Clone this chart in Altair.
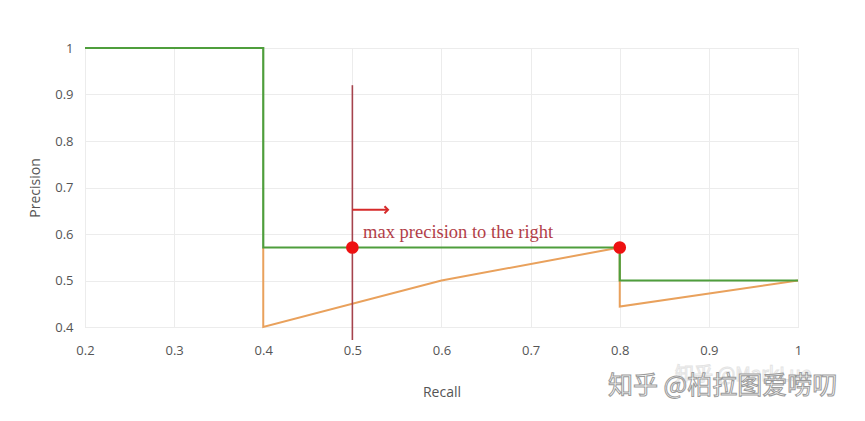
import altair as alt
import pandas as pd

# Interpolated (max precision to the right) curve - green
green_recall = [0.2, 0.4, 0.4, 0.8, 0.8, 1.0]
green_precision = [1.0, 1.0, 0.571, 0.571, 0.5, 0.5]

# Raw precision-recall curve - orange
orange_recall = [0.4, 0.4, 0.6, 0.8, 0.8, 1.0]
orange_precision = [0.571, 0.4, 0.5, 0.571, 0.444, 0.5]

# Highlighted points
dot_recall = [0.5, 0.8]
dot_precision = [0.571, 0.571]

# Vertical marker line at recall 0.5
marker_recall = 0.5
marker_top = 0.92
marker_bottom = 0.372

# Arrow
arrow_start = 0.5
arrow_end = 0.54
arrow_level = 0.652

annotation_text = "max precision to the right"
annotation_x = 0.512
annotation_y = 0.604

x_ticks = [0.2, 0.3, 0.4, 0.5, 0.6, 0.7, 0.8, 0.9, 1.0]
y_ticks = [0.4, 0.5, 0.6, 0.7, 0.8, 0.9, 1.0]

green_df = pd.DataFrame({"r": green_recall, "p": green_precision, "o": range(len(green_recall))})
orange_df = pd.DataFrame({"r": orange_recall, "p": orange_precision, "o": range(len(orange_recall))})
dots_df = pd.DataFrame({"r": dot_recall, "p": dot_precision})

xs = alt.Scale(domain=[0.2, 1.0], nice=False, zero=False)
ys = alt.Scale(domain=[0.4, 1.0], nice=False, zero=False)

font = "Open Sans"
x_axis = alt.Axis(values=x_ticks, labelExpr="format(datum.value, '.1~f')", grid=True,
                  gridColor="#ececec", domain=False, ticks=False, labelPadding=17,
                  labelFlush=False, labelBound=False,
                  labelFontSize=13, labelColor="#555", labelFont=font,
                  title="Recall", titleFont=font, titleFontSize=14, titleColor="#555",
                  titleFontWeight="normal", titlePadding=28)
y_axis = alt.Axis(values=y_ticks, labelExpr="format(datum.value, '.1~f')", grid=True,
                  gridColor="#ececec", domain=False, ticks=False, labelPadding=12,
                  labelFlush=False, labelBound=False,
                  labelFontSize=13, labelColor="#555", labelFont=font,
                  title="Precision", titleFont=font, titleFontSize=14, titleColor="#555",
                  titleFontWeight="normal", titlePadding=12)

base_x = alt.X("r:Q", scale=xs, axis=x_axis)
base_y = alt.Y("p:Q", scale=ys, axis=y_axis)

orange = alt.Chart(orange_df).mark_line(color="#e9a15c", strokeWidth=2).encode(
    x=base_x, y=base_y, order="o:O")
green = alt.Chart(green_df).mark_line(color="#4f9e3c", strokeWidth=2.2).encode(
    x=alt.X("r:Q", scale=xs), y=alt.Y("p:Q", scale=ys), order="o:O")

marker_df = pd.DataFrame({"r": [marker_recall], "p": [marker_top], "p2": [marker_bottom]})
marker = alt.Chart(marker_df).mark_rule(color="#a5434d", strokeWidth=1.6).encode(
    x=alt.X("r:Q", scale=xs), y=alt.Y("p:Q", scale=ys), y2="p2:Q")

arrow_df = pd.DataFrame({"r": [arrow_start], "r2": [arrow_end], "p": [arrow_level]})
arrow_line = alt.Chart(arrow_df).mark_rule(color="#d62a2a", strokeWidth=2).encode(
    x=alt.X("r:Q", scale=xs), x2="r2:Q", y=alt.Y("p:Q", scale=ys))
head_df = pd.DataFrame({"r": [arrow_end], "p": [arrow_level]})
arrow_head = alt.Chart(head_df).mark_point(
    shape="M-1,-1L0,0L-1,1", filled=False, stroke="#d62a2a", strokeWidth=2, size=50, opacity=1
).encode(x=alt.X("r:Q", scale=xs), y=alt.Y("p:Q", scale=ys))

text_df = pd.DataFrame({"r": [annotation_x], "p": [annotation_y], "t": [annotation_text]})
text = alt.Chart(text_df).mark_text(align="left", baseline="middle", font="Liberation Serif",
                                    fontSize=18.5, color="#b23e48").encode(
    x=alt.X("r:Q", scale=xs), y=alt.Y("p:Q", scale=ys), text="t:N")

dots = alt.Chart(dots_df).mark_circle(color="#ee1111", size=160, opacity=1).encode(
    x=alt.X("r:Q", scale=xs), y=alt.Y("p:Q", scale=ys))

wm2 = alt.Chart(pd.DataFrame({"t": ["知乎 @MarkLue"]})).mark_text(
    align="left", baseline="middle", font="Noto Sans CJK SC", fontSize=19,
    color="#ffffff", stroke="#e4e4e4", strokeWidth=1).encode(
    x=alt.value(590), y=alt.value(327), text="t:N")
wm1 = alt.Chart(pd.DataFrame({"t": ["知乎 @柏拉图爱唠叨"]})).mark_text(
    align="left", baseline="middle", font="Noto Sans CJK SC", fontSize=25,
    color="#ffffff", stroke="#9a9a9a", strokeWidth=1).encode(
    x=alt.value(523), y=alt.value(338), text="t:N")

chart = alt.layer(orange, green, marker, arrow_line, arrow_head, text, dots, wm2, wm1).properties(
    width=713, height=279,
    autosize=alt.AutoSizeParams(type="none"),
    padding={"left": 77, "top": 40, "right": 40, "bottom": 80},
).configure_view(stroke=None).configure(background="white")

chart.save("out.html", embed_options={"renderer": "svg", "actions": False})
